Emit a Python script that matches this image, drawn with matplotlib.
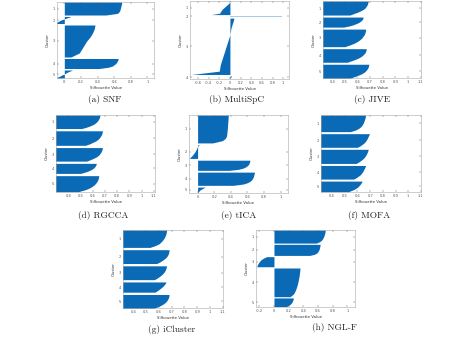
import numpy as np
import matplotlib
matplotlib.use("Agg")
import matplotlib.pyplot as plt
from matplotlib.ticker import FuncFormatter

# silhouette profiles: per cluster, row count and values from top row to bottom row
snf_sizes = [26, 14, 64, 20, 16]
snf_profiles = [
    [0.69, 0.69, 0.685, 0.68, 0.675, 0.67, 0.66, 0.64, 0.5],
    [0.08, 0.05, 0.02, -0.01, -0.04, -0.06, -0.08, -0.09, -0.1],
    [0.37, 0.36, 0.34, 0.31, 0.27, 0.24, 0.21, 0.18, 0.08],
    [0.65, 0.645, 0.64, 0.63, 0.62, 0.6, 0.58, 0.53, 0.42],
    [0.1, 0.07, 0.04, 0.02, 0.0, -0.03, -0.05, -0.08, -0.1],
]

multispc_sizes = [28, 1, 112, 6]
multispc_profiles = [
    [0.02, 0.0, -0.02, -0.05, -0.08, -0.11, -0.14, -0.16, -0.18, -0.19, -0.35],
    [0.98, 0.98],
    [0.075, 0.06, 0.04, 0.02, 0.01, 0.0, -0.02, -0.04, -0.06, -0.08, -0.10,
     -0.12, -0.14, -0.16, -0.18, -0.19, -0.2, -0.72],
    [0.03, 0.0],
]

jive_sizes = [28, 20, 35, 27, 28]
jive_profiles = [
    [0.685, 0.683, 0.68, 0.675, 0.668, 0.66, 0.645, 0.625, 0.6, 0.57, 0.54],
    [0.645, 0.643, 0.64, 0.635, 0.625, 0.615, 0.6, 0.58, 0.56, 0.53, 0.49],
    [0.665, 0.663, 0.66, 0.655, 0.645, 0.635, 0.62, 0.6, 0.575, 0.54, 0.5],
    [0.67, 0.668, 0.665, 0.66, 0.65, 0.64, 0.625, 0.605, 0.58, 0.55, 0.52],
    [0.69, 0.688, 0.685, 0.68, 0.672, 0.662, 0.648, 0.628, 0.6, 0.57, 0.54],
]

rgcca_sizes = [27, 29, 27, 20, 32]
rgcca_profiles = [
    [0.66, 0.658, 0.655, 0.65, 0.643, 0.634, 0.622, 0.605, 0.58, 0.55, 0.51],
    [0.68, 0.678, 0.675, 0.67, 0.663, 0.654, 0.642, 0.625, 0.6, 0.575, 0.54],
    [0.68, 0.678, 0.675, 0.67, 0.663, 0.655, 0.644, 0.628, 0.605, 0.58, 0.55],
    [0.63, 0.628, 0.625, 0.62, 0.613, 0.604, 0.592, 0.575, 0.555, 0.53, 0.5],
    [0.65, 0.648, 0.645, 0.64, 0.632, 0.622, 0.608, 0.59, 0.565, 0.53, 0.48],
]

tica_sizes = [55, 27, 20, 26, 11]
tica_profiles = [
    [0.37, 0.368, 0.366, 0.364, 0.362, 0.36, 0.358, 0.355, 0.352, 0.348, 0.335, 0.3, 0.18],
    [0.02, 0.0, -0.01, -0.02, -0.03, -0.045, -0.06, -0.08, -0.1],
    [0.63, 0.628, 0.625, 0.62, 0.615, 0.605, 0.59, 0.57, 0.54, 0.49, 0.38],
    [0.685, 0.682, 0.678, 0.674, 0.668, 0.66, 0.648, 0.63, 0.6, 0.55, 0.43],
    [0.09, 0.07, 0.05, 0.03, 0.02, 0.01, 0.0],
]

mofa_sizes = [33, 27, 28, 27, 21]
mofa_profiles = [
    [0.664, 0.662, 0.659, 0.655, 0.65, 0.645, 0.637, 0.627, 0.61, 0.585, 0.545],
    [0.695, 0.69, 0.685, 0.68, 0.675, 0.668, 0.66, 0.65, 0.635, 0.62, 0.6],
    [0.685, 0.682, 0.678, 0.673, 0.667, 0.66, 0.652, 0.64, 0.625, 0.61, 0.59],
    [0.665, 0.66, 0.656, 0.65, 0.645, 0.638, 0.63, 0.62, 0.605, 0.59, 0.57],
    [0.637, 0.633, 0.628, 0.622, 0.615, 0.607, 0.598, 0.585, 0.57, 0.55, 0.53],
]

icluster_sizes = [34, 27, 27, 20, 27]
icluster_profiles = [
    [0.661, 0.659, 0.656, 0.652, 0.646, 0.638, 0.628, 0.615, 0.6, 0.57, 0.53],
    [0.68, 0.679, 0.677, 0.674, 0.669, 0.662, 0.652, 0.638, 0.622, 0.605, 0.583],
    [0.66, 0.658, 0.655, 0.651, 0.645, 0.637, 0.627, 0.615, 0.6, 0.585, 0.565],
    [0.656, 0.652, 0.647, 0.641, 0.634, 0.625, 0.615, 0.605, 0.594, 0.582, 0.57],
    [0.68, 0.679, 0.676, 0.672, 0.666, 0.658, 0.647, 0.632, 0.613, 0.59, 0.56],
]

nglf_sizes = [26, 22, 20, 57, 17]
nglf_profiles = [
    [0.70, 0.698, 0.695, 0.69, 0.685, 0.678, 0.67, 0.66, 0.645, 0.62, 0.58],
    [0.63, 0.628, 0.625, 0.622, 0.618, 0.613, 0.605, 0.595, 0.58, 0.55, 0.49],
    [-0.1, -0.13, -0.155, -0.175, -0.19, -0.2, -0.21, -0.218, -0.225, -0.23, -0.236],
    [0.355, 0.352, 0.348, 0.343, 0.337, 0.33, 0.322, 0.312, 0.3, 0.285, 0.265, 0.22],
    [0.265, 0.262, 0.258, 0.252, 0.245, 0.235, 0.22, 0.2, 0.175],
]

BLUE = "#0a6ab6"
W, H = 474, 339

# name, sizes, profiles, gap, box in pixels (x0, y0, x1, y1), xlim, xticks, caption position
panels = [
    ("(a) SNF", snf_sizes, snf_profiles, 3, (57, 2, 154, 78), (-0.088, 1.08),
     np.arange(0, 1.01, 0.2), (105, 99)),
    ("(b) MultiSpC", multispc_sizes, multispc_profiles, 3, (190, 0.5, 289, 79), (-0.75, 1.11),
     np.arange(-0.6, 1.01, 0.2), (237, 99)),
    ("(c) JIVE", jive_sizes, jive_profiles, 4, (322.7, 1, 420.7, 78.3), (0.325, 1.1),
     np.arange(0.4, 1.11, 0.1), (372, 99)),
    ("(d) RGCCA", rgcca_sizes, rgcca_profiles, 4.5, (56, 115, 155, 191.7), (0.3, 1.11),
     np.arange(0.4, 1.11, 0.1), (103, 216)),
    ("(e) tICA", tica_sizes, tica_profiles, 3.5, (189.3, 115, 287.7, 192.7), (-0.1, 1.085),
     np.arange(0, 1.01, 0.2), (239, 216)),
    ("(f) MOFA", mofa_sizes, mofa_profiles, 4, (321.3, 115, 421.3, 191.7), (0.315, 1.103),
     np.arange(0.4, 1.11, 0.1), (369, 216)),
    ("(g) iCluster", icluster_sizes, icluster_profiles, 4.5, (122.7, 230, 223.3, 308.3), (0.317, 1.104),
     np.arange(0.4, 1.11, 0.1), (172, 330)),
    ("(h) NGL-F", nglf_sizes, nglf_profiles, 2.5, (256, 230, 355, 306.5), (-0.245, 1.105),
     np.arange(-0.2, 1.01, 0.2), (335, 328)),
]


def silhouette(ax, sizes, profiles, gap):
    y = 0.0
    centers = []
    for n, prof in zip(sizes, profiles):
        prof = np.asarray(prof, dtype=float)
        ys = y + np.linspace(0, n, len(prof))
        # single-row clusters come out as a faint hairline
        alpha = 0.35 if n <= 1 else 1.0
        ax.fill_betweenx(ys, 0, prof, color=BLUE, lw=0, alpha=alpha)
        centers.append(y + n / 2)
        y += n + gap
    ax.set_ylim(y - gap, 0)
    ax.set_yticks(centers)
    ax.set_yticklabels([str(i + 1) for i in range(len(sizes))])


fmt = FuncFormatter(lambda v, p: "%g" % round(v, 2))

fig = plt.figure(figsize=(W / 100, H / 100), dpi=100)
for name, sizes, profiles, gap, box, xlim, xticks, cap in panels:
    x0, y0, x1, y1 = box
    ax = fig.add_axes([x0 / W, 1 - y1 / H, (x1 - x0) / W, (y1 - y0) / H])
    silhouette(ax, sizes, profiles, gap)
    ax.set_xlim(*xlim)
    ax.set_xticks(xticks)
    ax.xaxis.set_major_formatter(fmt)
    ax.tick_params(direction="in", top=True, right=True, length=1.5, width=0.3,
                   labelsize=2.6, pad=1.5, colors="#555555")
    for s in ax.spines.values():
        s.set_linewidth(0.4)
        s.set_color("#a8a8a8")
    ax.set_xlabel("Silhouette Value", fontsize=2.8, labelpad=1.5, color="#333333")
    ax.set_ylabel("Cluster", fontsize=2.8, labelpad=2, color="#333333")
    fig.text(cap[0] / W, 1 - cap[1] / H, name, family="cmr10", fontsize=6.8,
             ha="center", va="center", color="#222222")

fig.savefig("out.png", dpi=100)
